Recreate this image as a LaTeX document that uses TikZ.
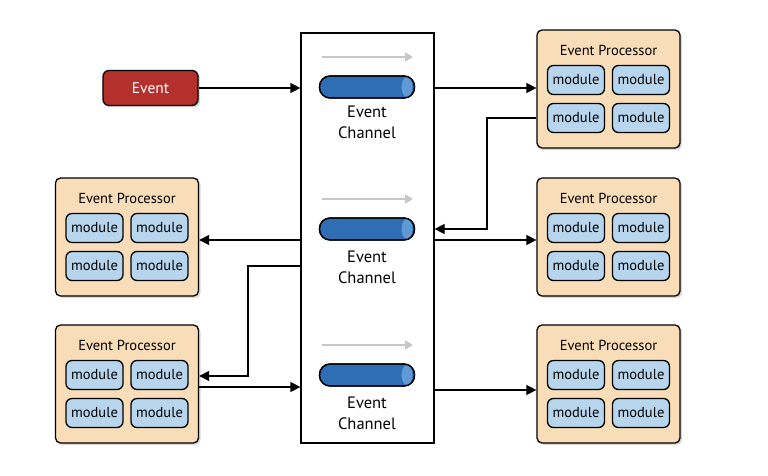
\documentclass[tikz,border=0pt]{standalone}
\usepackage{fontspec}
\setmainfont{PT Sans}
\usetikzlibrary{shadows,arrows.meta}
\definecolor{procfill}{HTML}{F9DDB8}
\definecolor{modfill}{HTML}{B7D5EC}
\definecolor{evfill}{HTML}{B3302C}
\definecolor{pipefill}{HTML}{2F6DB5}
\definecolor{pipeend}{HTML}{5E9BD4}
\begin{document}
\begin{tikzpicture}[x=1pt,y=-1pt,
  proc/.style={draw,line width=1.3pt,rounded corners=5pt,fill=procfill,minimum width=143pt,minimum height=118pt,drop shadow={opacity=0.3,shadow xshift=2pt,shadow yshift=-2pt}},
  mod/.style={draw,line width=1.3pt,rounded corners=6pt,fill=modfill,minimum width=57pt,minimum height=29pt,inner sep=0pt,font=\fontsize{14.5}{15}\selectfont},
  title/.style={font=\fontsize{14.5}{15}\selectfont},
  pipe/.style={draw,line width=1.3pt,rounded corners=10.5pt,fill=pipefill,minimum width=95pt,minimum height=22pt,inner sep=0pt},
  conn/.style={line width=1.2pt,-{Triangle[length=10pt,width=10pt]}},
  chan/.style={font=\fontsize{16.5}{21}\selectfont,align=center}]
\useasboundingbox (0,0) rectangle (768,476);
\node[draw,line width=1.2pt,minimum width=133pt,minimum height=410pt,inner sep=0pt] (box) at (367.5,238) {};
\node[draw,line width=1.3pt,rounded corners=6pt,fill=evfill,minimum width=95pt,minimum height=35pt,text=white,font=\fontsize{15.5}{16}\selectfont,drop shadow={opacity=0.3,shadow xshift=2pt,shadow yshift=-2pt}] (ev) at (150.5,88) {Event};
% channels
\foreach \n/\y/\t in {c1/87/122, c2/229/267, c3/375/413}{
  \draw[line width=2.5pt,gray!45,-{Triangle[length=8pt,width=9pt]}] (322,\y-30) -- (413,\y-30);
  \node[pipe] (\n) at (367,\y) {};
  \fill[pipeend] (407,\y) ellipse (5.5pt and 10pt);
  \node[pipe,fill=none] at (367,\y) {};
  \node[chan] (\n t) at (367,\t) {Event\\Channel};
}
% processors
\foreach \n/\x/\y in {p1/608.5/89, p2/608.5/237, p3/608.5/384, p4/127/237, p5/127/384}{
  \node[proc] (\n) at (\x,\y) {};
  \node[title] (\n h) at (\x,\y-39) {Event Processor};
  \node[mod] (\n a) at (\x-32.5,\y-9) {module};
  \node[mod] (\n b) at (\x+32.5,\y-9) {module};
  \node[mod] (\n c) at (\x-32.5,\y+29) {module};
  \node[mod] (\n d) at (\x+32.5,\y+29) {module};
}
\draw[conn] (ev.east) -- (ev.east -| box.west);
\draw[conn] (box.east |- 0,88) -- (p1.west |- 0,88);
\draw[conn] (p1.west |- 0,118) -- (487,118) -- (487,229) -- (box.east |- 0,229);
\draw[conn] (box.east |- 0,240) -- (p2.west |- 0,240);
\draw[conn] (box.west |- 0,240) -- (p4.east |- 0,240);
\draw[conn] (box.west |- 0,266) -- (248,266) -- (248,376) -- (p5.east |- 0,376);
\draw[conn] (p5.east |- 0,387) -- (box.west |- 0,387);
\draw[conn] (box.east |- 0,390) -- (p3.west |- 0,390);
\end{tikzpicture}
\end{document}
